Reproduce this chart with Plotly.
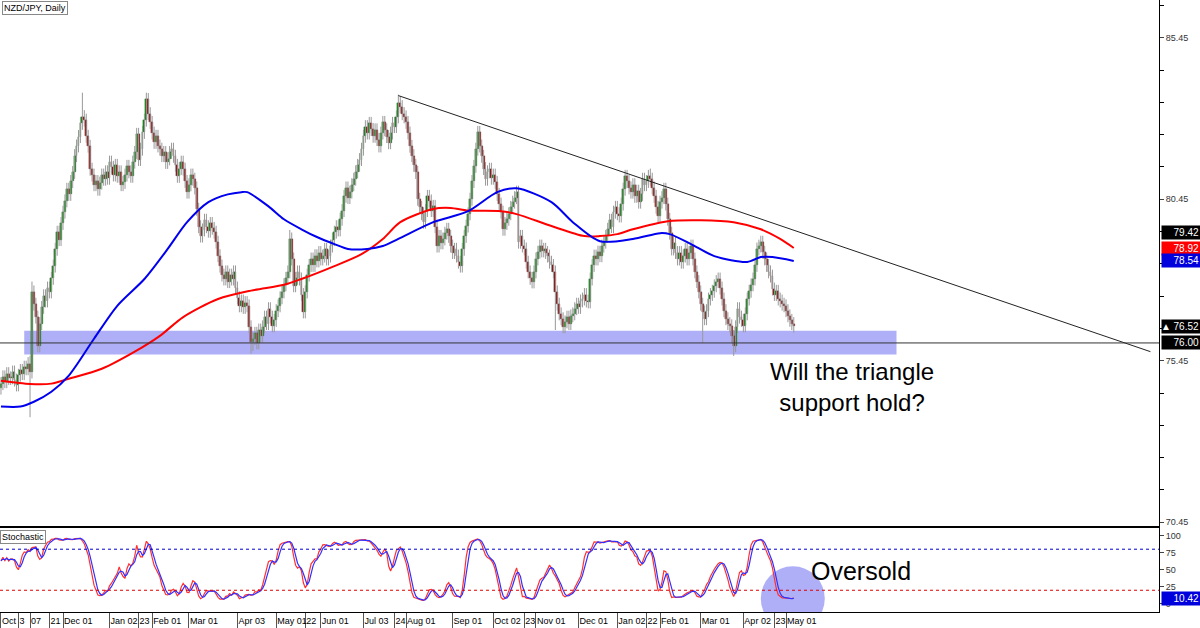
import plotly.graph_objects as go
from plotly.subplots import make_subplots

# ---------------- data ----------------
closes = [
74.74,74.95,74.80,75.05,74.90,74.92,75.10,74.85,74.70,75.00,
75.15,75.05,75.25,75.20,75.36,75.10,77.58,77.20,76.80,75.91,
76.60,77.10,77.46,77.30,77.70,77.58,78.00,78.38,78.90,79.43,
79.20,79.70,80.05,80.40,80.76,80.60,81.00,81.28,81.80,82.10,
82.39,82.80,83.01,82.90,82.40,82.09,81.38,81.20,80.90,81.00,
80.76,80.95,81.20,81.07,81.30,81.10,81.60,81.44,81.20,81.50,
81.16,81.30,80.90,80.97,81.20,81.47,81.30,81.16,81.60,81.90,
82.46,81.68,82.00,82.52,82.90,83.54,83.10,82.83,82.50,82.21,
82.40,82.10,82.00,81.80,81.90,81.59,81.70,81.90,82.00,81.78,
81.50,81.16,81.40,81.60,81.38,81.00,80.67,80.90,81.20,81.07,
80.80,80.14,79.60,79.31,79.50,79.80,79.60,79.46,79.70,79.55,
79.43,79.12,78.70,78.38,78.10,77.98,78.20,77.90,78.10,77.98,
78.20,77.70,77.40,77.15,77.30,77.10,77.25,77.15,76.50,76.04,
76.13,76.30,76.00,76.40,76.22,76.50,76.80,76.60,77.06,76.80,
76.53,76.70,77.00,77.15,77.40,77.58,77.80,78.00,78.20,79.22,
78.60,77.77,78.00,78.20,77.98,77.50,76.96,77.58,78.10,78.40,
78.60,78.40,78.70,78.54,78.80,78.60,78.69,78.90,78.60,78.69,
79.00,79.20,79.43,79.60,79.50,79.83,80.10,80.54,80.80,80.50,
80.67,80.90,81.07,81.30,81.50,81.68,82.00,82.40,82.70,82.50,
82.80,82.61,82.40,82.60,82.30,82.10,82.50,82.83,82.60,82.39,
82.20,82.50,82.80,82.70,83.00,83.44,83.32,83.10,83.00,82.83,
82.50,82.09,81.80,81.50,81.28,80.45,80.20,80.00,79.74,80.10,
80.54,80.40,80.10,80.23,79.60,79.00,79.30,79.10,79.22,79.40,
79.52,79.30,79.00,78.80,78.90,78.69,78.50,78.38,78.90,79.30,
79.62,80.00,80.45,81.00,81.47,82.00,82.52,82.10,81.78,81.40,
81.07,81.30,81.38,81.10,81.20,80.97,80.60,80.30,80.05,79.52,
79.70,79.83,80.00,80.20,80.36,80.50,80.67,79.12,79.30,79.00,
78.91,78.50,78.20,78.00,77.89,78.20,78.60,78.81,79.00,78.85,
78.90,78.80,78.69,78.50,78.40,78.20,77.58,77.20,76.90,76.75,
76.50,76.65,76.80,76.60,76.84,76.90,77.06,77.20,77.10,77.30,
77.36,77.50,77.30,77.27,77.98,78.40,78.69,78.60,78.81,78.70,
79.00,79.12,79.30,79.52,79.80,79.60,80.05,80.20,80.00,79.93,
80.30,80.76,81.16,81.00,80.80,80.67,80.90,80.54,80.70,80.36,
80.60,81.07,80.90,81.00,81.16,81.07,80.80,80.54,80.20,79.93,
80.36,80.50,80.76,80.30,79.83,79.40,78.91,79.10,78.80,78.60,
78.80,78.50,78.69,78.90,78.60,78.80,79.00,78.60,78.20,77.90,
77.58,77.20,76.96,76.75,77.00,77.36,77.50,77.60,77.77,77.90,
77.98,77.70,77.36,77.00,76.75,76.60,76.53,76.20,75.91,76.50,
77.06,76.80,76.70,76.53,76.90,77.36,77.60,77.80,77.98,78.40,
78.91,79.00,79.12,78.81,78.60,78.40,78.20,78.07,77.67,77.50,
77.60,77.36,77.30,77.20,77.15,77.00,76.84,76.70,76.60,76.52,
]
first_open = 74.60
wick = 0.2
high_override = {15: 75.6, 16: 77.9, 42: 83.75, 75: 83.75, 149: 79.5, 205: 83.69, 246: 82.72, 335: 81.4}
low_override = {15: 73.70, 129: 75.67, 130: 75.75, 286: 76.4, 362: 76.0, 378: 75.6}

ma_blue_x = [0,10,17,26,35,48,60,74,86,96,107,117,124,127,138,146,155,163,172,179,189,197,205,
             223,241,256,266,284,295,309,326,340,345,356,368,385,392,398,409]
ma_blue_y = [74.03,74.03,74.18,74.49,74.99,76.13,77.15,77.98,78.91,79.74,80.36,80.60,80.67,80.67,80.23,79.83,79.52,79.28,79.06,78.91,78.91,79.00,79.22,
             79.74,80.08,80.67,80.79,80.36,79.74,79.15,79.22,79.40,79.37,79.06,78.69,78.51,78.66,78.66,78.54]
ma_red_x = [0,15,26,35,52,69,82,94,112,129,146,155,172,186,197,206,223,232,241,258,266,284,301,309,318,326,344,361,378,392,402,409]
ma_red_y = [74.83,74.73,74.74,74.89,75.20,75.73,76.22,76.80,77.36,77.62,77.80,77.98,78.38,78.75,79.22,79.74,80.15,80.18,80.10,80.08,79.99,79.62,79.31,79.31,79.37,79.52,79.77,79.80,79.74,79.52,79.22,78.94]

tick_pos = [0,9,15,25,32,56,71,78,97,122,142,157,165,187,203,209,233,254,270,276,298,318,333,340,361,383,399,405]
tick_text = ["Oct","3","07","21","Dec 01","Jan 02","23","Feb 01","Mar 01","Apr 03","May 01","22","Jun 01",
             "Jul 03","24","Aug 01","Sep 01","Oct 02","23","Nov 01","Dec 01","Jan 02","22","Feb 01","Mar 01",
             "Apr 02","23","May 01"]

price_ticks = [70.45,75.45,80.45,85.45]
support_level = 76.00
zone_low, zone_high = 75.64, 76.38
trend_x = [205, 593]
trend_y = [83.66, 75.73]
labels_right = [(79.42, "79.42", "black"), (78.92, "78.92", "#ff0000"), (78.54, "78.54", "#0000dd"),
                (76.52, "76.52", "black"), (76.00, "76.00", "black")]
stoch_label = "10.42"

# ---------------- derived OHLC ----------------
n = len(closes)
x = list(range(n))
opens = [first_open] + closes[:-1]
highs = [high_override.get(i, max(opens[i], closes[i]) + wick) for i in range(n)]
lows = [low_override.get(i, min(opens[i], closes[i]) - wick) for i in range(n)]

def sma(a, k):
    out = []
    for i in range(len(a)):
        w = a[max(0, i-k+1):i+1]
        out.append(sum(w)/len(w))
    return out
raw = []
for i in range(n):
    hh = max(highs[max(0, i-13):i+1]); ll = min(lows[max(0, i-13):i+1])
    raw.append((closes[i]-ll)/(hh-ll)*100 if hh > ll else 50)
k_line = sma(raw, 3)
d_line = sma(k_line, 3)

fig = make_subplots(rows=2, cols=1, shared_xaxes=True, row_heights=[0.863, 0.137], vertical_spacing=0.004)

wx, wy = [], []
for i in range(n):
    wx += [i, i, None]; wy += [lows[i], highs[i], None]
fig.add_trace(go.Scatter(x=wx, y=wy, mode="lines", line=dict(color="#999999", width=1), showlegend=False,
                         hoverinfo="skip"), row=1, col=1)
up = [c >= o for o, c in zip(opens, closes)]
base = [min(o, c) for o, c in zip(opens, closes)]
size = [max(abs(c - o), 0.04) for o, c in zip(opens, closes)]
fig.add_trace(go.Bar(x=x, y=size, base=base, width=0.95,
                     marker=dict(color=["#009000" if u else "#a00000" for u in up],
                                 line=dict(color="#333333", width=0.3)),
                     showlegend=False, hoverinfo="skip"), row=1, col=1)
fig.add_trace(go.Scatter(x=ma_red_x, y=ma_red_y, mode="lines", line=dict(color="#ff0000", width=2, shape="spline", smoothing=0.8),
                         showlegend=False, hoverinfo="skip"), row=1, col=1)
fig.add_trace(go.Scatter(x=ma_blue_x, y=ma_blue_y, mode="lines", line=dict(color="#0000ee", width=2, shape="spline", smoothing=0.8),
                         showlegend=False, hoverinfo="skip"), row=1, col=1)
fig.add_trace(go.Scatter(x=trend_x, y=trend_y, mode="lines", line=dict(color="#222222", width=1),
                         showlegend=False, hoverinfo="skip"), row=1, col=1)
fig.add_trace(go.Scatter(x=x, y=k_line, mode="lines", line=dict(color="#ff3030", width=1.2), showlegend=False), row=2, col=1)
fig.add_trace(go.Scatter(x=x, y=d_line, mode="lines", line=dict(color="#3030ff", width=1.2), showlegend=False), row=2, col=1)

xmax = 1159/1.94
fig.add_shape(type="rect", xref="x", yref="y", x0=12, x1=462, y0=zone_low, y1=zone_high,
              fillcolor="rgba(110,110,240,0.55)", line_width=0, layer="below")
fig.add_shape(type="line", xref="x", yref="y", x0=-0.5, x1=xmax, y0=support_level, y1=support_level,
              line=dict(color="#333333", width=1))
fig.add_shape(type="line", xref="x2", yref="y2", x0=-0.5, x1=xmax, y0=80, y1=80, line=dict(color="#0000cc", width=1, dash="dot"))
fig.add_shape(type="line", xref="x2", yref="y2", x0=-0.5, x1=xmax, y0=20, y1=20, line=dict(color="#dd0000", width=1, dash="dot"))
fig.add_shape(type="circle", xref="x2", yref="y2", x0=n-1-17, x1=n-1+16, y0=d_line[-1]-47, y1=d_line[-1]+47,
              fillcolor="rgba(110,110,240,0.55)", line_width=0, layer="below")

ann = []
for yv, txt, col in labels_right:
    ann.append(dict(xref="paper", yref="y", x=1.002, y=yv, text=(("▲ " if txt == "76.52" else "") + txt),
                    showarrow=False, xanchor="left", bgcolor=col, font=dict(color="white", size=10, family="Arial"),
                    width=36, align="right", borderpad=1))
ann.append(dict(xref="paper", yref="y2", x=1.002, y=d_line[-1], text=stoch_label, showarrow=False, xanchor="left",
                bgcolor="#0000dd", font=dict(color="white", size=10, family="Arial"), width=36, align="right", borderpad=1))
ann.append(dict(xref="paper", yref="paper", x=0.002, y=0.998, text="NZD/JPY, Daily", showarrow=False, xanchor="left",
                yanchor="top", font=dict(size=9, color="black", family="Arial"), bordercolor="#888", borderwidth=1,
                bgcolor="white", borderpad=1))
ann.append(dict(xref="paper", yref="y2", x=0.0, y=108, text="Stochastic", showarrow=False, xanchor="left",
                yanchor="top", font=dict(size=9, color="black", family="Arial"), bordercolor="#888", borderwidth=1,
                bgcolor="white", borderpad=1))
ann.append(dict(xref="x", yref="y", x=439, y=74.65, text="Will the triangle<br>support hold?", showarrow=False,
                font=dict(size=24, color="black", family="Arial"), align="center"))
ann.append(dict(xref="x", yref="y2", x=417, y=48, text="Oversold", showarrow=False, xanchor="left",
                font=dict(size=25, color="black", family="Arial")))

fig.update_layout(width=1200, height=628, margin=dict(l=0, r=41, t=0, b=16, autoexpand=False), plot_bgcolor="white",
                  paper_bgcolor="white", annotations=ann, hovermode=False, bargap=0)
fig.update_xaxes(range=[-0.5, xmax], showgrid=False, showline=True, linecolor="black",
                 mirror=True, zeroline=False)
fig.update_xaxes(tickvals=tick_pos, ticktext=tick_text, ticks="outside", ticklen=16, tickcolor="#555", tickangle=0,
                 ticklabelposition="outside right", tickfont=dict(size=9, family="Arial", color="black"),
                 row=2, col=1)
fig.update_xaxes(showticklabels=False, ticks="", row=1, col=1)
fig.update_yaxes(range=[70.33, 86.62], side="right", tickvals=price_ticks, ticktext=[f"{v:.2f}" for v in price_ticks],
                 ticks="outside", ticklen=4, showgrid=False, zeroline=False, showline=True, linecolor="black", mirror=True,
                 minor=dict(dtick=1, tick0=0.45, ticks="outside", ticklen=4, tickcolor="black"),
                 tickfont=dict(size=9, family="Arial", color="#333"), row=1, col=1)
fig.update_yaxes(range=[-11.8, 110.3], side="right", tickvals=[0, 25, 50, 75, 100], ticks="outside", ticklen=4,
                 showgrid=False, zeroline=False, showline=True, linecolor="black", mirror=True,
                 tickfont=dict(size=9, family="Arial", color="#333"), row=2, col=1)
fig.write_html("out.html", config={"displayModeBar": False},
               post_script="document.body.style.margin='0';document.body.style.overflow='hidden';")
